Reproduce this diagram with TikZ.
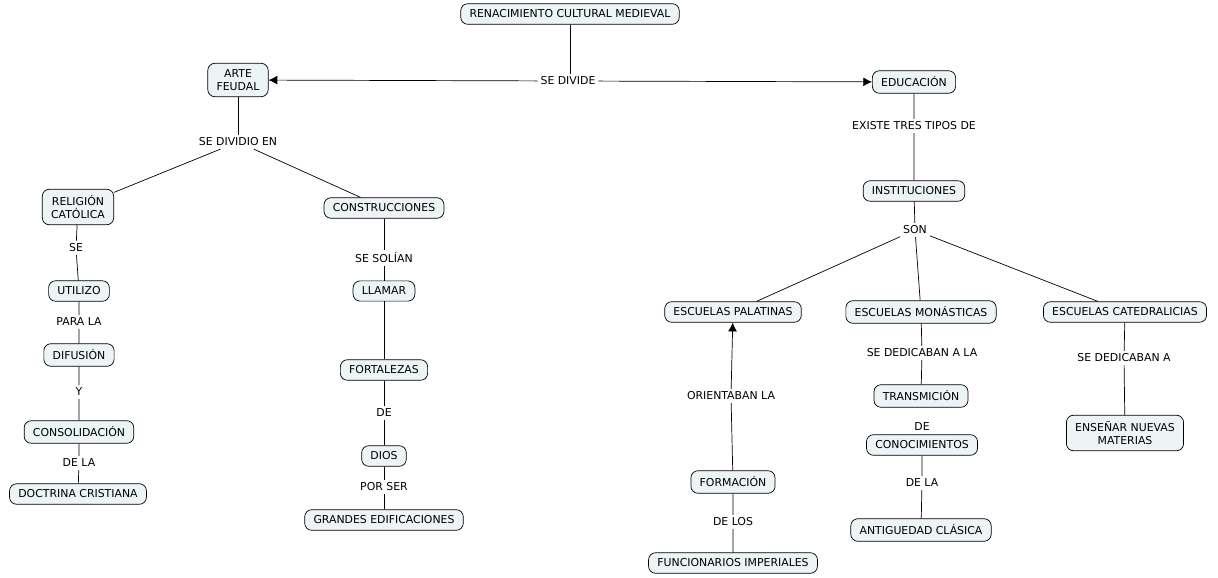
\documentclass[tikz,border=0pt]{standalone}
\usepackage{fontspec}
\setmainfont{DejaVu Sans}
\definecolor{cajafondo}{RGB}{236,244,246}
\tikzset{
  caja/.style={draw, rounded corners=4pt, fill=cajafondo, font=\fontsize{6.2}{7.4}\selectfont,
    inner xsep=5pt, inner ysep=3.5pt, minimum height=0.4cm, align=center},
  enlace/.style={font=\fontsize{6.2}{7.4}\selectfont, fill=white, inner sep=1.5pt},
  flecha/.style={-{Latex[length=5pt,width=5pt]}}
}
\usetikzlibrary{arrows.meta}
\begin{document}
\begin{tikzpicture}[x=0.02cm, y=-0.02cm]
  \useasboundingbox (0,0) rectangle (1218,578);

  % Conceptos
  \node[caja] (renac) at (570,14) {RENACIMIENTO CULTURAL MEDIEVAL};
  \node[caja] (arte) at (238,80) {ARTE\\FEUDAL};
  \node[caja] (educ) at (914,82) {EDUCACIÓN};
  \node[caja] (relig) at (78,207) {RELIGIÓN\\CATÓLICA};
  \node[caja] (constr) at (384,208) {CONSTRUCCIONES};
  \node[caja] (utilizo) at (79,291) {UTILIZO};
  \node[caja] (difusion) at (79,355) {DIFUSIÓN};
  \node[caja] (consol) at (79,432) {CONSOLIDACIÓN};
  \node[caja] (doctrina) at (78,494) {DOCTRINA CRISTIANA};
  \node[caja] (llamar) at (384,291) {LLAMAR};
  \node[caja] (fortal) at (384,370) {FORTALEZAS};
  \node[caja] (dios) at (384,456) {DIOS};
  \node[caja] (grandes) at (384,520) {GRANDES EDIFICACIONES};
  \node[caja] (instit) at (914,191) {INSTITUCIONES};
  \node[caja] (palat) at (733,312) {ESCUELAS PALATINAS};
  \node[caja] (monast) at (921,312) {ESCUELAS MONÁSTICAS};
  \node[caja] (catedr) at (1125,312) {ESCUELAS CATEDRALICIAS};
  \node[caja] (formac) at (733,482) {FORMACIÓN};
  \node[caja] (funcion) at (733,563) {FUNCIONARIOS IMPERIALES};
  \node[caja] (transm) at (921,396) {TRANSMICIÓN};
  \node[caja] (conoc) at (922,445) {CONOCIMIENTOS};
  \node[caja] (antig) at (921,530) {ANTIGUEDAD CLÁSICA};
  \node[caja] (ensenar) at (1125,433) {ENSEÑAR NUEVAS\\MATERIAS};

  % Frases de enlace
  \node[enlace] (divide) at (568,81) {SE DIVIDE};
  \node[enlace] (dividio) at (238,142) {SE DIVIDIO EN};
  \node[enlace] (se) at (76,248) {SE};
  \node[enlace] (parala) at (79,322) {PARA LA};
  \node[enlace] (y) at (79,392) {Y};
  \node[enlace] (dela1) at (79,463) {DE LA};
  \node[enlace] (solian) at (384,258) {SE SOLÍAN};
  \node[enlace] (de1) at (384,413) {DE};
  \node[enlace] (porser) at (384,487) {POR SER};
  \node[enlace] (existe) at (914,126) {EXISTE TRES TIPOS DE};
  \node[enlace] (son) at (915,230) {SON};
  \node[enlace] (orient) at (731,396) {ORIENTABAN LA};
  \node[enlace] (delos) at (733,522) {DE LOS};
  \node[enlace] (dedicla) at (922,353) {SE DEDICABAN A LA};
  \node[enlace, fill=none, inner sep=0pt] (de2) at (922,427) {DE};
  \node[enlace] (dela2) at (922,483) {DE LA};
  \node[enlace] (dedic) at (1124,358) {SE DEDICABAN A};

  % Conexiones
  \draw (renac) -- (renac |- divide.north);
  \draw[flecha] (divide) -- (arte);
  \draw[flecha] (divide) -- (educ);
  \draw (arte) -- (dividio);
  \draw (dividio) -- (relig);
  \draw (dividio) -- (constr);
  \draw (relig) -- (se) -- (utilizo) -- (parala) -- (difusion) -- (y) -- (consol) -- (dela1) -- (doctrina);
  \draw (constr) -- (solian) -- (llamar) -- (fortal) -- (de1) -- (dios) -- (porser) -- (grandes);
  \draw (educ) -- (existe) -- (instit) -- (son);
  \draw (son) -- (palat);
  \draw (son) -- (monast);
  \draw (son) -- (catedr);
  \draw (funcion) -- (delos) -- (formac) -- (orient);
  \draw[flecha] (orient) -- (palat);
  \draw (monast) -- (dedicla) -- (transm);
  \draw (conoc) -- (dela2) -- (antig);
  \draw (catedr) -- (dedic) -- (ensenar);
\end{tikzpicture}
\end{document}
